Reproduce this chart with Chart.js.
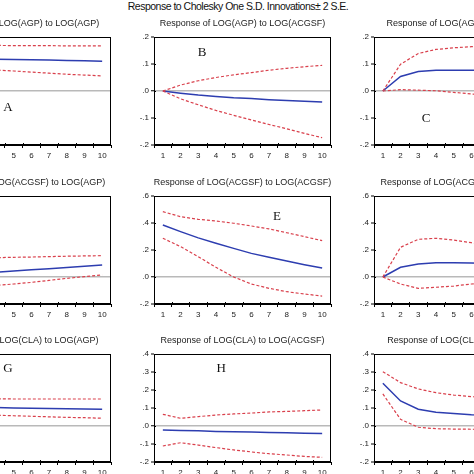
<!DOCTYPE html>
<html>
<head>
<meta charset="utf-8">
<script src="https://cdn.jsdelivr.net/npm/chart.js@4.4.1/dist/chart.umd.min.js"></script>
<style>
html, body { margin: 0; padding: 0; background: #fff; }
body { width: 474px; height: 474px; position: relative; overflow: hidden; font-family: "Liberation Sans", Arial, sans-serif; }
#title { position: absolute; top: 0; left: 0; width: 476px; text-align: center; font-size: 10.5px; letter-spacing: -0.5px; color: #111; line-height: 13px; }
.panel { position: absolute; }
</style>
</head>
<body>
<div id="title">Response to Cholesky One S.D. Innovations± 2 S.E.</div>
<script>
// periods on the x axis
const periods = ['1', '2', '3', '4', '5', '6', '7', '8', '9', '10'];

// row 1: response of LOG(AGP)
const respA = [0.125, 0.122, 0.120, 0.118, 0.117, 0.116, 0.115, 0.113, 0.112, 0.110];
const upA   = [0.170, 0.170, 0.169, 0.169, 0.168, 0.168, 0.168, 0.167, 0.167, 0.167];
const loA   = [0.090, 0.086, 0.082, 0.078, 0.074, 0.070, 0.066, 0.062, 0.059, 0.056];

const respB = [0, -0.008, -0.015, -0.020, -0.025, -0.028, -0.032, -0.035, -0.038, -0.041];
const upB   = [0, 0.022, 0.038, 0.050, 0.060, 0.068, 0.077, 0.084, 0.090, 0.095];
const loB   = [0, -0.029, -0.051, -0.072, -0.090, -0.107, -0.124, -0.140, -0.157, -0.173];

const respC = [0, 0.054, 0.072, 0.077, 0.077, 0.077, 0.077, 0.076, 0.075, 0.074];
const upC   = [0, 0.099, 0.139, 0.154, 0.160, 0.164, 0.165, 0.165, 0.165, 0.164];
const loC   = [0, 0.005, 0.003, 0.001, -0.005, -0.011, -0.015, -0.018, -0.020, -0.022];

// row 2: response of LOG(ACGSF)
const respD = [0.010, 0.020, 0.028, 0.036, 0.044, 0.053, 0.062, 0.071, 0.080, 0.089];
const upD   = [0.130, 0.135, 0.140, 0.143, 0.146, 0.148, 0.151, 0.154, 0.156, 0.158];
const loD   = [-0.100, -0.085, -0.072, -0.062, -0.052, -0.040, -0.025, -0.010, 0.003, 0.015];

const respE = [0.385, 0.336, 0.290, 0.250, 0.212, 0.175, 0.146, 0.118, 0.091, 0.067];
const upE   = [0.484, 0.447, 0.427, 0.415, 0.398, 0.378, 0.356, 0.328, 0.299, 0.269];
const loE   = [0.287, 0.225, 0.150, 0.072, 0.000, -0.052, -0.084, -0.109, -0.126, -0.141];

const respF = [0, 0.072, 0.096, 0.106, 0.106, 0.104, 0.100, 0.098, 0.096, 0.094];
const upF   = [0, 0.220, 0.279, 0.287, 0.274, 0.254, 0.235, 0.220, 0.205, 0.190];
const loF   = [0, -0.052, -0.084, -0.076, -0.067, -0.052, -0.045, -0.040, -0.035, -0.030];

// row 3: response of LOG(CLA)
const respG = [0.110, 0.108, 0.106, 0.103, 0.100, 0.099, 0.097, 0.096, 0.094, 0.093];
const upG   = [0.152, 0.152, 0.151, 0.151, 0.150, 0.150, 0.150, 0.150, 0.150, 0.150];
const loG   = [0.070, 0.066, 0.063, 0.060, 0.057, 0.054, 0.051, 0.048, 0.046, 0.043];

const respH = [-0.022, -0.025, -0.027, -0.030, -0.032, -0.034, -0.036, -0.038, -0.040, -0.041];
const upH   = [0.065, 0.043, 0.052, 0.061, 0.067, 0.072, 0.078, 0.081, 0.085, 0.089];
const loH   = [-0.111, -0.093, -0.106, -0.120, -0.133, -0.144, -0.154, -0.161, -0.169, -0.174];

const respI = [0.237, 0.139, 0.093, 0.076, 0.069, 0.063, 0.060, 0.057, 0.055, 0.053];
const upI   = [0.302, 0.241, 0.206, 0.185, 0.172, 0.163, 0.157, 0.152, 0.148, 0.145];
const loI   = [0.178, 0.037, -0.007, -0.015, -0.017, -0.018, -0.019, -0.020, -0.020, -0.020];

const titles = [
    'Response of LOG(AGP) to LOG(AGP)', 'Response of LOG(AGP) to LOG(ACGSF)', 'Response of LOG(AGP) to LOG(CLA)',
    'Response of LOG(ACGSF) to LOG(AGP)', 'Response of LOG(ACGSF) to LOG(ACGSF)', 'Response of LOG(ACGSF) to LOG(CLA)',
    'Response of LOG(CLA) to LOG(AGP)', 'Response of LOG(CLA) to LOG(ACGSF)', 'Response of LOG(CLA) to LOG(CLA)'
];

// y axis range per row
const yMin = [-0.2, -0.2, -0.2];
const yMax = [0.2, 0.6, 0.4];
const yStep = [0.1, 0.2, 0.1];

// panel letters: [text, period index, value]
const letters = [
    ['A', 3.68, -0.062], ['B', 2.21, 0.143], ['C', 2.44, -0.103],
    null, ['E', 6.45, 0.444], null,
    ['G', 3.68, 0.317], ['H', 3.29, 0.317], null
];

const series = [
    [respA, upA, loA], [respB, upB, loB], [respC, upC, loC],
    [respD, upD, loD], [respE, upE, loE], [respF, upF, loF],
    [respG, upG, loG], [respH, upH, loH], [respI, upI, loI]
];

// layout of the plot areas
const colLeft = [-66, 154, 374];
const rowTop = [37, 196, 354];
const PLOT_W = 177, PLOT_H = 108;
const AXIS_W = 30, AXIS_H = 20, TOP_PAD = 25, RIGHT_PAD = 6;

const BLUE = '#2d3db0';
const RED = '#d9404c';

function fmtTick(v) {
    const r = Math.round(v * 10) / 10;
    if (r === 0) return '.0';
    const s = Math.abs(r).toFixed(1).replace(/^0/, '');
    return (r < 0 ? '-' : '') + s;
}

const framePlugin = {
    id: 'frame',
    afterDraw(chart, args, opts) {
        const { ctx, chartArea: a } = chart;
        ctx.save();
        ctx.strokeStyle = '#000';
        ctx.lineWidth = 1;
        ctx.strokeRect(Math.round(a.left) + 0.5, Math.round(a.top) + 0.5,
            Math.round(a.right - a.left) - 1, Math.round(a.bottom - a.top) - 1);

        // EViews ticks poke a little into the plot too
        ctx.beginPath();
        chart.scales.x.ticks.forEach((t, k) => {
            const px = Math.round(chart.scales.x.getPixelForValue(k - 0.5)) + 0.5;
            ctx.moveTo(px, a.bottom);
            ctx.lineTo(px, a.bottom - 2);
        });
        chart.scales.y.ticks.forEach(t => {
            const py = Math.round(chart.scales.y.getPixelForValue(t.value)) + 0.5;
            ctx.moveTo(a.left, py);
            ctx.lineTo(a.left + 2, py);
        });
        ctx.stroke();

        ctx.fillStyle = '#222';
        ctx.font = '9px "Liberation Sans", Arial, sans-serif';
        ctx.textAlign = 'center';
        ctx.textBaseline = 'middle';
        ctx.fillText(opts.title, (a.left + a.right) / 2, a.top - 13);

        if (opts.letter) {
            const [t, xi, yv] = opts.letter;
            ctx.fillStyle = '#111';
            ctx.font = '13px "Liberation Serif", "Times New Roman", serif';
            ctx.fillText(t, chart.scales.x.getPixelForValue(xi), chart.scales.y.getPixelForValue(yv));
        }
        ctx.restore();
    }
};

function makePanel(i) {
    const row = Math.floor(i / 3), col = i % 3;
    const w = AXIS_W + PLOT_W + RIGHT_PAD, h = TOP_PAD + PLOT_H + AXIS_H;
    const div = document.createElement('div');
    div.className = 'panel';
    div.style.left = (colLeft[col] - AXIS_W) + 'px';
    div.style.top = (rowTop[row] - TOP_PAD) + 'px';
    div.style.width = w + 'px';
    div.style.height = h + 'px';
    const canvas = document.createElement('canvas');
    canvas.width = w;
    canvas.height = h;
    div.appendChild(canvas);
    document.body.appendChild(div);

    const [resp, up, lo] = series[i];
    const tickFont = { family: '"Liberation Sans", Arial, sans-serif', size: 8 };

    new Chart(canvas, {
        type: 'line',
        data: {
            labels: periods,
            datasets: [
                { data: up, borderColor: RED, borderWidth: 1.2, borderDash: [3, 2], pointRadius: 0, tension: 0, fill: false },
                { data: lo, borderColor: RED, borderWidth: 1.2, borderDash: [3, 2], pointRadius: 0, tension: 0, fill: false },
                { data: resp, borderColor: BLUE, borderWidth: 1.5, pointRadius: 0, tension: 0, fill: false }
            ]
        },
        options: {
            responsive: false,
            animation: false,
            layout: { padding: { top: TOP_PAD, right: RIGHT_PAD, left: 0, bottom: 0 } },
            plugins: {
                legend: { display: false },
                tooltip: { enabled: false },
                frame: { title: titles[i], letter: letters[i] }
            },
            scales: {
                x: {
                    type: 'category',
                    offset: true,
                    afterFit(s) { s.height = AXIS_H; },
                    grid: { offset: true, drawOnChartArea: false, tickLength: 3, tickColor: '#000' },
                    border: { color: '#000', width: 1 },
                    ticks: { color: '#222', font: tickFont, padding: 3, maxRotation: 0, autoSkip: false }
                },
                y: {
                    min: yMin[row],
                    max: yMax[row],
                    afterFit(s) { s.width = AXIS_W; },
                    grid: {
                        color: c => (c.tick && Math.abs(c.tick.value) < 1e-9) ? '#b9b9b9' : 'rgba(0,0,0,0)',
                        lineWidth: c => (c.tick && Math.abs(c.tick.value) < 1e-9) ? 1.5 : 0,
                        tickLength: 3,
                        tickColor: '#000',
                        tickWidth: 1
                    },
                    border: { color: '#000', width: 1 },
                    ticks: { stepSize: yStep[row], color: '#222', font: tickFont, padding: 2, callback: v => fmtTick(v) }
                }
            }
        },
        plugins: [framePlugin]
    });
}

for (let i = 0; i < 9; i++) makePanel(i);
</script>
</body>
</html>
